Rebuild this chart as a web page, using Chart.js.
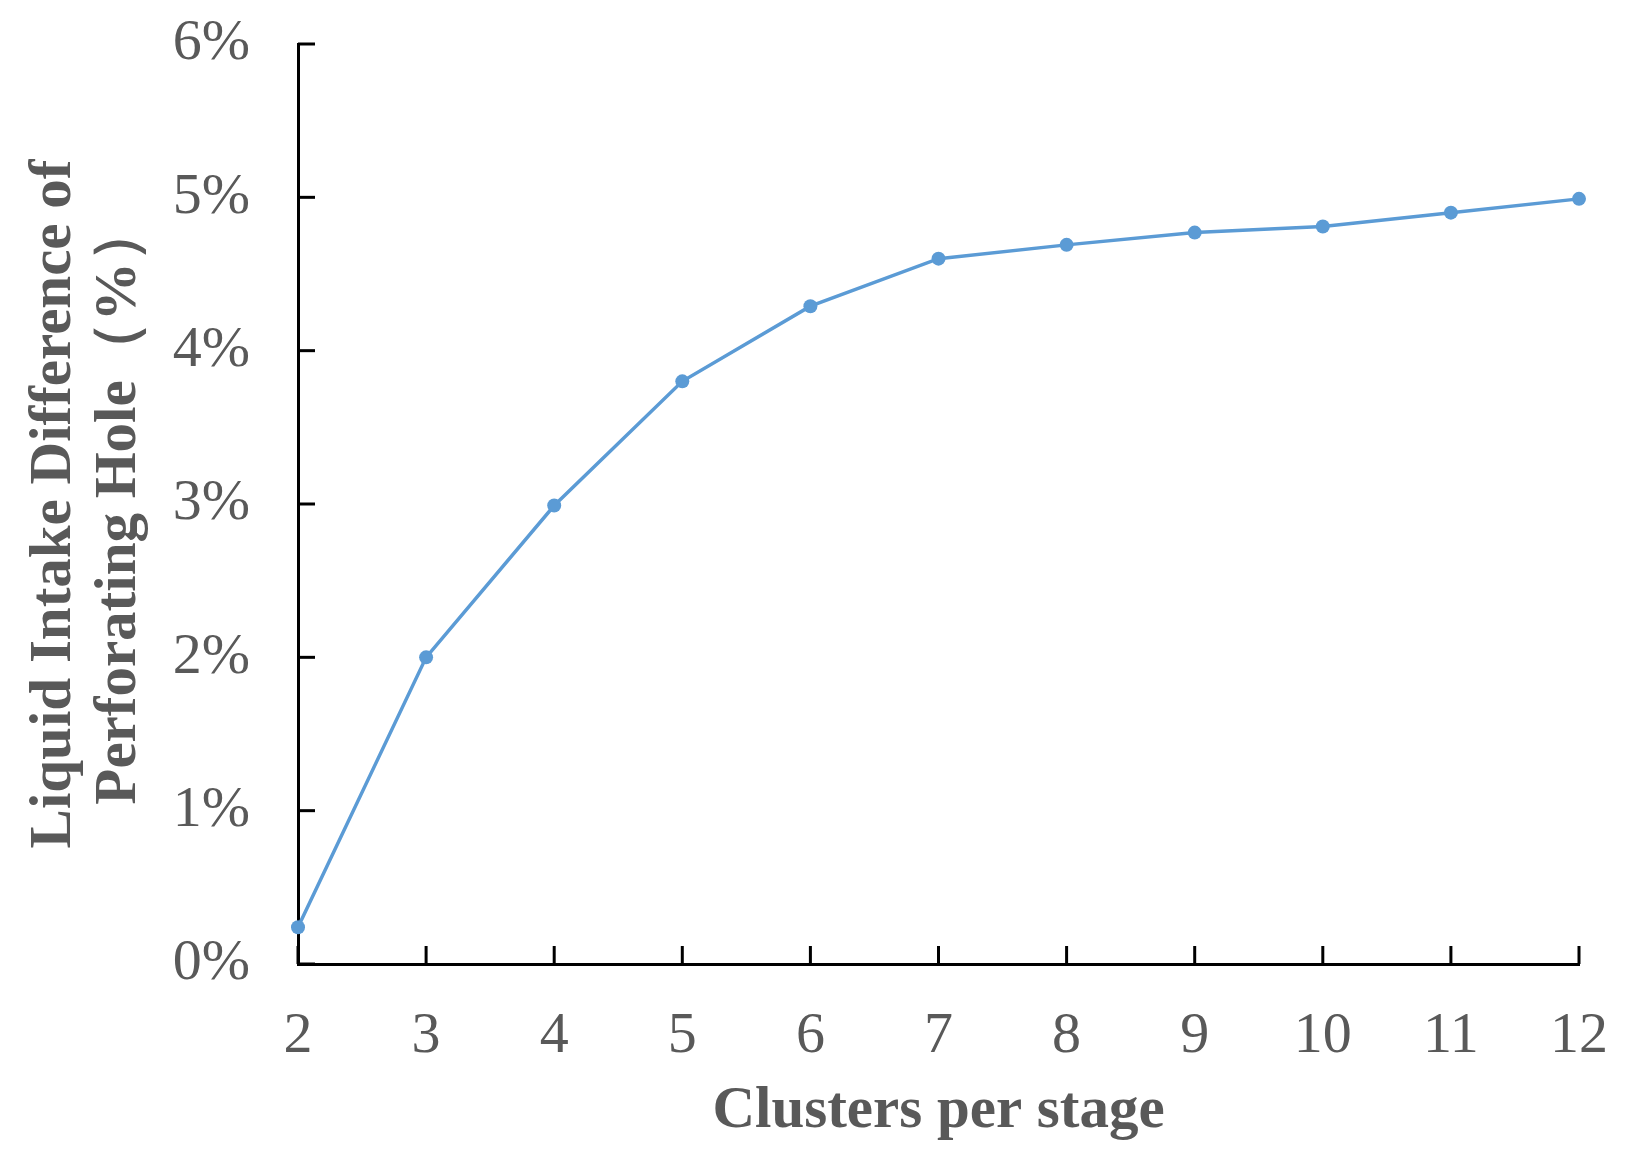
<!DOCTYPE html>
<html>
<head>
<meta charset="utf-8">
<script src="https://cdn.jsdelivr.net/npm/chart.js@4/dist/chart.umd.min.js"></script>
<style>
  html, body { margin: 0; padding: 0; background: #fff; }
  #wrap { width: 1633px; height: 1167px; }
</style>
</head>
<body>
<div id="wrap"><canvas id="myChart" width="1633" height="1167"></canvas></div>
<script>
// clusters per stage
const clusters = ['2', '3', '4', '5', '6', '7', '8', '9', '10', '11', '12'];
// liquid intake difference, percent
const intakeDiff = [0.24, 2.0, 2.99, 3.8, 4.29, 4.6, 4.69, 4.77, 4.81, 4.9, 4.99];
const yTicks = [0, 1, 2, 3, 4, 5, 6];

const grey = '#595959';
const serif = "'Liberation Serif', 'Times New Roman', serif";

// ticks in the reference point into the plot, so draw them ourselves
const innerTicks = {
  id: 'innerTicks',
  beforeDatasetsDraw(chart) {
    const ctx = chart.ctx;
    const x = chart.scales.x, y = chart.scales.y;
    const area = chart.chartArea;
    ctx.save();
    ctx.strokeStyle = '#000';
    ctx.lineWidth = 3;
    y.ticks.forEach(function (t, i) {
      const py = y.getPixelForTick(i);
      ctx.beginPath();
      ctx.moveTo(area.left, py);
      ctx.lineTo(area.left + 17, py);
      ctx.stroke();
    });
    x.ticks.forEach(function (t, i) {
      const px = x.getPixelForTick(i);
      ctx.beginPath();
      ctx.moveTo(px, area.bottom);
      ctx.lineTo(px, area.bottom - 18);
      ctx.stroke();
    });
    ctx.restore();
  }
};

function createChart() {
  var ctx = document.getElementById('myChart').getContext('2d');
  new Chart(ctx, {
    type: 'line',
    data: {
      labels: clusters,
      datasets: [{
        data: intakeDiff,
        borderColor: '#5B9BD5',
        backgroundColor: '#5B9BD5',
        borderWidth: 3.5,
        pointRadius: 7,
        pointBorderWidth: 0,
        tension: 0,
        clip: false
      }]
    },
    options: {
      responsive: false,
      animation: false,
      layout: { padding: { left: 0, right: 54, top: 44, bottom: 0 } },
      plugins: { legend: { display: false }, tooltip: { enabled: false } },
      scales: {
        x: {
          offset: false,
          grid: { display: false, drawTicks: false },
          border: { display: true, color: '#000', width: 3 },
          ticks: { color: grey, padding: 38, maxRotation: 0, font: { family: serif, size: 58 } },
          title: {
            display: true,
            text: 'Clusters per stage',
            color: grey,
            padding: { top: 0, bottom: 22 },
            font: { family: serif, size: 59, weight: 'bold', lineHeight: 1.12 }
          },
          afterFit(scale) {
            scale.height = 203;
            // tick padding should not widen the side margins
            scale.paddingLeft = 0;
            scale.paddingRight = 30;
          }
        },
        y: {
          min: 0,
          max: 6,
          afterBuildTicks(scale) { scale.ticks = yTicks.map(v => ({ value: v })); },
          grid: { display: false, drawTicks: false },
          border: { display: true, color: '#000', width: 3 },
          ticks: {
            color: grey,
            padding: 48,
            font: { family: serif, size: 58 },
            callback: v => v + '%'
          },
          title: {
            display: true,
            text: ['Liquid Intake Difference of', 'Perforating Hole（%）'],
            color: grey,
            padding: { top: 22, bottom: 0 },
            font: { family: serif, size: 59, weight: 'bold', lineHeight: 1.1 }
          },
          afterFit(scale) {
            scale.width = 298;
            scale.paddingTop = 30;
            scale.paddingBottom = 0;
          }
        }
      }
    },
    plugins: [innerTicks]
  });
}

createChart();
</script>
</body>
</html>
